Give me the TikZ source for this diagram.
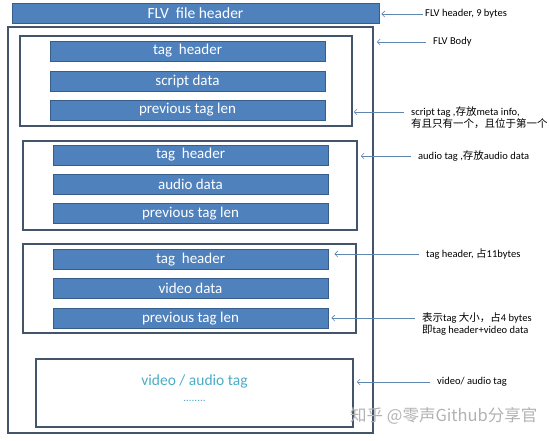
\documentclass[tikz,border=0pt]{standalone}
\usepackage{fontspec}
\setmainfont{Carlito}
\newfontfamily\cjk{Noto Sans CJK SC}
\usepackage{tikz}
\usetikzlibrary{arrows.meta, positioning}
\definecolor{barblue}{HTML}{4F81BD}
\definecolor{bardark}{HTML}{385D8A}
\definecolor{frame}{HTML}{44546A}
\definecolor{pointcol}{HTML}{5F86AE}
\definecolor{tagcyan}{HTML}{4BACC6}
\tikzstyle{bar} = [rectangle, draw=bardark, fill=barblue, line width=0.8pt,
  minimum width=275pt, minimum height=20pt, inner sep=0pt, text=white,
  font=\fontsize{15}{17}\selectfont]
\tikzstyle{tagbox} = [rectangle, draw=frame, line width=1.6pt, inner sep=0pt]
\tikzstyle{note} = [anchor=west, inner sep=0pt, font=\fontsize{10.5}{12}\selectfont]
\tikzstyle{pointer} = [draw=pointcol, line width=0.6pt,
  -{Straight Barb[length=3pt,width=6pt]}, shorten <=7pt, shorten >=3pt]

\begin{document}
\begin{tikzpicture}[x=1pt, y=-1pt]
    \useasboundingbox (0,0) rectangle (549,440);
    % header and body
    \node[bar, minimum width=367pt, font=\fontsize{15.5}{17}\selectfont] (hdr) at (195.5,13) {FLV\ \ file header};
    \node[tagbox, minimum width=365pt, minimum height=406pt] (body) at (190.5,230) {};
    % script tag
    \node[tagbox, minimum width=332pt, minimum height=90pt] (stag) at (186,81) {};
    \node[bar] (shdr) at (187.5,51) {tag\ \ header};
    \node[bar] (sdata) at (187.5,81) {script data};
    \node[bar] (slen) at (187.5,110) {previous tag len};
    % audio tag
    \node[tagbox, minimum width=334pt, minimum height=89pt] (atag) at (190,185.5) {};
    \node[bar] (ahdr) at (190.5,155) {tag\ \ header};
    \node[bar] (adata) at (190.5,184.5) {audio data};
    \node[bar] (alen) at (190.5,213.5) {previous tag len};
    % video tag
    \node[tagbox, minimum width=333pt, minimum height=89pt] (vtag) at (189.5,288.5) {};
    \node[bar] (vhdr) at (190.5,259.5) {tag\ \ header};
    \node[bar] (vdata) at (190.5,288.5) {video data};
    \node[bar] (vlen) at (190.5,318.5) {previous tag len};
    % video / audio tag
    \node[tagbox, minimum width=317pt, minimum height=68pt] (vatag) at (194.5,393) {};
    \node[text=tagcyan, font=\fontsize{15.5}{17}\selectfont] (vaname) at (194.5,381) {video / audio tag};
    \node[text=tagcyan, font=\fontsize{11}{13}\selectfont] (vadots) at (194.5,401) {........};
    % notes
    \node[note] (t1) at (425,14) {FLV header, 9 bytes};
    \node[note] (t2) at (433,42) {FLV Body};
    \node[note] (t3) at (411,112) {script tag ,{\cjk 存放}meta info,};
    \node[note] (t3b) at (411,124) {\cjk 有且只有一个，且位于第一个};
    \node[note] (t4) at (418,156) {audio tag ,{\cjk 存放}audio data};
    \node[note] (t5) at (426,254) {tag header, {\cjk 占}11bytes};
    \node[note] (t6) at (422,318) {{\cjk 表示}tag {\cjk 大小，占}4 bytes};
    \node[note] (t6b) at (422,330) {{\cjk 即}tag header+video data};
    \node[note] (t7) at (437,382) {video/ audio tag};
    \draw[pointer, shorten <=2pt, shorten >=2pt] (t1.west) -- (t1.west -| hdr.east);
    \draw[pointer] (t2.west) -- (t2.west -| body.east);
    \draw[pointer, shorten >=1pt] (t3.west) -- (t3.west -| stag.east);
    \draw[pointer] (t4.west) -- (t4.west -| atag.east);
    \draw[pointer, shorten >=6pt] (t5.west) -- (t5.west -| vhdr.east);
    \draw[pointer] (t6.west) -- (t6.west -| vlen.east);
    \draw[pointer] (t7.west) -- (t7.west -| vatag.east);
    % watermark
    \node[anchor=west, inner sep=0pt, text=black!30, font=\cjk\fontsize{16.5}{18}\selectfont] (mark) at (350,416) {知乎 @零声Github分享官};
  \end{tikzpicture}
\end{document}
